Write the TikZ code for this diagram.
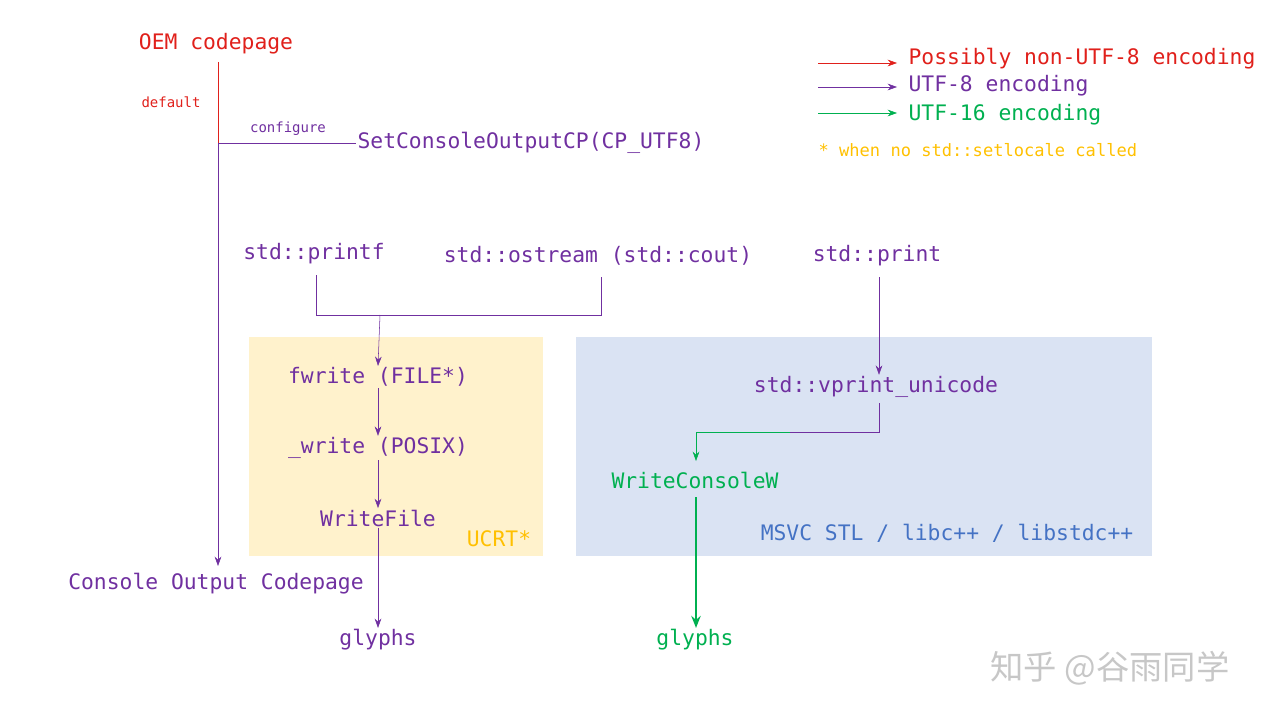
\documentclass[tikz,border=0pt]{standalone}
\usepackage{fontspec}
\setmonofont{DejaVu Sans Mono}
\newfontfamily\cjk{Noto Sans CJK SC}
\usetikzlibrary{arrows.meta}
\definecolor{cred}{HTML}{E0201B}
\definecolor{cpur}{HTML}{7030A0}
\definecolor{cgrn}{HTML}{00B050}
\definecolor{cgold}{HTML}{FFC000}
\definecolor{cblue}{HTML}{4472C4}
\definecolor{cyel}{HTML}{FFF2CC}
\definecolor{cbox}{HTML}{DAE3F3}
\tikzset{
 lbl/.style={font=\ttfamily\fontsize{16}{18}\selectfont, inner sep=1pt},
 small/.style={font=\ttfamily\fontsize{10.5}{12}\selectfont, inner sep=1pt},
 tip/.style={-{Stealth[length=7pt,width=5pt]}},
}
\begin{document}
\begin{tikzpicture}[x=0.75pt,y=-0.75pt]
\useasboundingbox (0,0) rectangle (1280,720);
\fill[cyel] (249,337) rectangle (543,556);
\fill[cbox] (576,337) rectangle (1152,556);
% nodes
\node[lbl,text=cred] (oem) at (216,44) {OEM codepage};
\node[small,text=cred] (def) at (171,102) {default};
\node[small,text=cpur] (cfg) at (288,129) {configure};
\node[lbl,text=cpur] (set) at (531,143) {SetConsoleOutputCP(CP\_UTF8)};
\node[lbl,text=cpur] (coc) at (216,584) {Console Output Codepage};
\node[lbl,text=cpur] (printf) at (314,254) {std::printf};
\node[lbl,text=cpur] (ostr) at (598,256) {std::ostream (std::cout)};
\node[lbl,text=cpur] (print) at (877,256) {std::print};
\node[lbl,text=cpur] (fwrite) at (378,377) {fwrite (FILE*)};
\node[lbl,text=cpur] (write) at (378,448) {\_write (POSIX)};
\node[lbl,text=cpur] (wf) at (378,518) {WriteFile};
\node[lbl,text=cpur] (g1) at (378,640) {glyphs};
\node[lbl,text=cgold] (ucrt) at (499,539) {UCRT*};
\node[lbl,text=cpur] (vpu) at (876,387) {std::vprint\_unicode};
\node[lbl,text=cgrn] (wcw) at (695,480) {WriteConsoleW};
\node[lbl,text=cgrn] (g2) at (695,640) {glyphs};
\node[lbl,text=cblue] (msvc) at (947,533) {MSVC STL / libc++ / libstdc++};
% legend
\coordinate (l1a) at (818,63); \coordinate (l1b) at (897,63);
\coordinate (l2a) at (818,87); \coordinate (l2b) at (897,87);
\coordinate (l3a) at (818,113); \coordinate (l3b) at (897,113);
\draw[tip,cred] (l1a) -- (l1b);
\draw[tip,cpur] (l2a) -- (l2b);
\draw[tip,cgrn] (l3a) -- (l3b);
\node[lbl,text=cred,anchor=west] (t1) at (907,59) {Possibly non-UTF-8 encoding};
\node[lbl,text=cpur,anchor=west] (t2) at (907,86) {UTF-8 encoding};
\node[lbl,text=cgrn,anchor=west] (t3) at (907,115) {UTF-16 encoding};
\node[font=\ttfamily\fontsize{12.8}{14}\selectfont,text=cgold,anchor=west,inner sep=1pt] (t4) at (817,150) {* when no std::setlocale called};
% connectors
\coordinate (j) at (218,143);
\draw[cred] (218,62) -- (j);
\draw[cpur,tip] (j) -- (218,566);
\draw[cpur] (j) -- (set.west);
\draw[cpur] (316,275) -- (316,315) -- (601,315) -- (601,277);
\draw[cpur,tip] (380,315) -- (fwrite.north);
\draw[cpur,tip] (fwrite.south) -- (write.north);
\draw[cpur,tip] (write.south) -- (wf.north);
\draw[cpur,tip] (wf.south) -- (g1.north);
\draw[cpur,tip] (879,277) -- (vpu.north -| 879,0);
\draw[cpur] (879,403) -- (879,432) -- (790,432);
\draw[cgrn,tip] (790,432) -- (696,432) -- (696,461);
\draw[cgrn,line width=2pt,-{Stealth[length=9pt,width=7pt]}] (696,497) -- (g2.north -| 696,0);
% watermark
\node[font=\cjk\fontsize{25}{28}\selectfont,text=black!22,inner sep=0] (wm) at (1110,668) {知乎 @谷雨同学};
\end{tikzpicture}
\end{document}
